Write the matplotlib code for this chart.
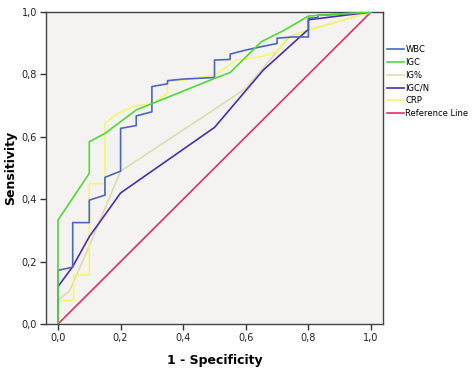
import matplotlib
matplotlib.use("Agg")
import matplotlib.pyplot as plt
from matplotlib.ticker import FuncFormatter

# ---- data (1 - specificity, sensitivity) ----
wbc_x = [0, 0, 0.047, 0.047, 0.1, 0.1, 0.15, 0.15, 0.2, 0.2, 0.25, 0.25, 0.3, 0.3, 0.35, 0.35, 0.4,
         0.5, 0.5, 0.55, 0.55, 0.6, 0.65, 0.7, 0.7, 0.75, 0.8, 0.8, 0.83, 0.83, 0.85, 1.0]
wbc_y = [0, 0.172, 0.182, 0.325, 0.325, 0.397, 0.413, 0.47, 0.49, 0.627, 0.636, 0.667, 0.68, 0.761,
         0.77, 0.78, 0.785, 0.79, 0.846, 0.848, 0.865, 0.878, 0.889, 0.899, 0.916, 0.92, 0.92, 0.98,
         0.982, 0.99, 0.99, 1.0]

igc_x = [0, 0, 0.036, 0.1, 0.1, 0.15, 0.25, 0.5, 0.55, 0.65, 0.72, 0.8, 1.0]
igc_y = [0, 0.333, 0.387, 0.483, 0.584, 0.611, 0.686, 0.787, 0.806, 0.905, 0.94, 0.987, 1.0]

igp_x = [0, 0, 0.036, 0.1, 0.2, 0.45, 0.6, 0.74, 0.8, 1.0]
igp_y = [0, 0.077, 0.104, 0.25, 0.49, 0.655, 0.755, 0.921, 0.942, 1.0]

igcn_x = [0, 0, 0.047, 0.1, 0.2, 0.5, 0.656, 0.795, 0.8, 0.8, 1.0]
igcn_y = [0, 0.12, 0.184, 0.28, 0.42, 0.63, 0.814, 0.94, 0.942, 0.975, 1.0]

crp_x = [0, 0, 0.05, 0.05, 0.1, 0.1, 0.15, 0.15, 0.19, 0.25, 0.3, 0.35, 0.35, 0.4, 0.5, 0.57,
         0.65, 0.7, 0.73, 0.8, 1.0]
crp_y = [0, 0.075, 0.075, 0.157, 0.157, 0.45, 0.45, 0.643, 0.675, 0.70, 0.705, 0.74, 0.777, 0.782,
         0.798, 0.846, 0.857, 0.873, 0.915, 0.942, 1.0]

ref_x = [0, 1]
ref_y = [0, 1]

labels = ["WBC", "IGC", "IG%", "IGC/N", "CRP", "Reference Line"]
colors = ["#4a68c0", "#52d838", "#dcdcae", "#4a2fb0", "#f6f66a", "#e0306e"]
xticks = [0.0, 0.2, 0.4, 0.6, 0.8, 1.0]
yticks = [0.0, 0.2, 0.4, 0.6, 0.8, 1.0]

fig = plt.figure(figsize=(4.74, 3.72), dpi=100)
ax = fig.add_axes([46 / 474, 48 / 372, 337 / 474, 312 / 372])
ax.set_facecolor("#f5f3f1")

series = [(wbc_x, wbc_y), (igc_x, igc_y), (igp_x, igp_y), (igcn_x, igcn_y), (crp_x, crp_y)]
order = [2, 4, 3, 0, 1]
handles = [None] * 6
for i in order:
    x, y = series[i]
    h, = ax.plot(x, y, color=colors[i], lw=1.2, label=labels[i], zorder=3)
    handles[i] = h
h, = ax.plot(ref_x, ref_y, color=colors[5], lw=1.2, label=labels[5], zorder=2)
handles[5] = h

ax.set_xlim(-12 / 313, 1 + 12 / 313)
ax.set_ylim(0, 1)
ax.set_xticks(xticks)
ax.set_yticks(yticks)
fmt = FuncFormatter(lambda v, p: f"{v:.1f}".replace(".", ","))
ax.xaxis.set_major_formatter(fmt)
ax.yaxis.set_major_formatter(fmt)
ax.tick_params(labelsize=7, length=4, width=1, color="#333333", labelcolor="#222222", pad=2.5)
for s in ax.spines.values():
    s.set_color("#444444")
    s.set_linewidth(1.0)

ax.set_xlabel("1 - Specificity", fontsize=9, fontweight="bold", labelpad=8)
ax.set_ylabel("Sensitivity", fontsize=9, fontweight="bold", labelpad=3)

fig.legend(handles=handles, labels=labels, loc="upper left",
           bbox_to_anchor=(384 / 474, 1 - 42 / 372), frameon=False,
           fontsize=6, handlelength=2.0, handletextpad=0.15, labelspacing=0.45,
           borderaxespad=0)

fig.savefig("out.png", dpi=100)
